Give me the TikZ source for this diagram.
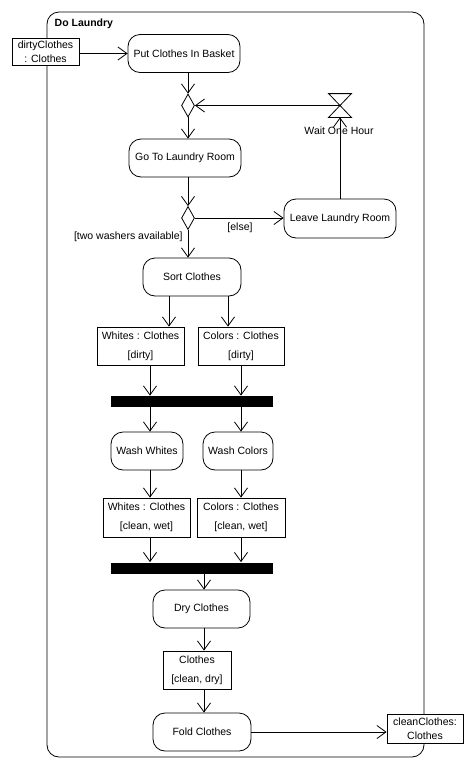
\documentclass[tikz,border=0pt]{standalone}
\usepackage{fontspec}
\setmainfont{Liberation Sans}
\usetikzlibrary{arrows.meta,positioning,shapes.geometric}

\begin{document}
\begin{tikzpicture}[
    x=1pt, y=-1pt,
    font=\fontsize{10.5}{13}\selectfont,
    line width=0.8pt,
    action/.style={draw, rounded corners=12pt, align=center, minimum height=38pt, inner sep=2pt},
    objbox/.style={draw, fill=white, align=center, minimum height=38pt, inner sep=2pt, font=\fontsize{10.5}{19}\selectfont},
    pinbox/.style={draw, fill=white, align=center, inner sep=2pt, font=\fontsize{10.5}{14}\selectfont},
    syncbar/.style={fill=black, minimum width=162pt, minimum height=11pt, inner sep=0pt},
    choice/.style={draw, diamond, minimum width=13pt, minimum height=23pt, inner sep=0pt},
    guard/.style={inner sep=1pt},
    line/.style={-{Straight Barb[length=9pt, width=13pt]}}
]
\useasboundingbox (0,0) rectangle (474,766);

% activity frame
\draw[rounded corners=12pt] (47,12) rectangle (424,757);
\node[font=\fontsize{10.5}{13}\selectfont\bfseries, anchor=west] (title) at (51,24) {Do Laundry};

% lanes for the vertical flows
\coordinate (laneM) at (188,0);
\coordinate (laneSW) at (169,0);
\coordinate (laneSC) at (228,0);
\coordinate (laneW) at (150,0);
\coordinate (laneC) at (241,0);
\coordinate (laneD) at (204,0);

\node[action, minimum width=112pt] (put) at (184,53.5) {Put Clothes In Basket};
\node[pinbox, minimum width=67pt, minimum height=27pt] (dirty) at (45.5,52) {dirtyClothes\\: Clothes};
\node[choice] (merge) at (188,105.5) {};
\node[minimum width=22pt, minimum height=23pt, inner sep=0pt] (wait) at (340,105.5) {};
\node[guard] (waitlbl) at (339,131) {Wait One Hour};
\node[action, minimum width=112pt] (go) at (185,158) {Go To Laundry Room};
\node[choice] (decide) at (188,218) {};
\node[action, minimum width=112pt, minimum height=39pt] (leave) at (340,218.5) {Leave Laundry Room};
\node[guard] (elselbl) at (240,228) {[else]};
\node[guard, anchor=east] (twolbl) at (184,237) {[two washers available]};
\node[action, minimum width=98pt] (sort) at (192,277) {Sort Clothes};

\node[objbox, minimum width=87pt] (whitesdirty) at (140.5,346) {Whites : Clothes\\{[dirty]}};
\node[objbox, minimum width=86pt] (colorsdirty) at (241,346) {Colors : Clothes\\{[dirty]}};
\node[syncbar] (fork) at (192,401.5) {};
\node[action, minimum width=72pt] (washw) at (147,451) {Wash Whites};
\node[action, minimum width=70pt] (washc) at (238,451) {Wash Colors};
\node[objbox, minimum width=87pt, minimum height=39pt] (whiteswet) at (146.5,517.5) {Whites : Clothes\\{[clean, wet]}};
\node[objbox, minimum width=88pt, minimum height=39pt] (colorswet) at (241,517.5) {Colors : Clothes\\{[clean, wet]}};
\node[syncbar] (join) at (192,568) {};
\node[action, minimum width=97pt] (dry) at (201.5,609) {Dry Clothes};
\node[objbox, minimum width=68pt] (drycl) at (197,670) {Clothes\\{[clean, dry]}};
\node[action, minimum width=98pt] (fold) at (202,732) {Fold Clothes};
\node[pinbox, minimum width=76pt, minimum height=29pt] (clean) at (425,729) {cleanClothes:\\Clothes};

% wait time event
\draw (wait.north west) -- (wait.north east) -- (wait.south west) -- (wait.south east) -- cycle;

\draw[line] (dirty.east |- put) -- (put);
\draw[line] (put.south -| laneM) -- (merge);
\draw[line] (wait.center) -- (merge);
\draw[line] (merge) -- (go.north -| laneM);
\draw[line] (go.south -| laneM) -- (decide);
\draw[line] (decide.east) -- (decide.east -| leave.west);
\draw[line] (leave) -- (wait.south);
\draw[line] (decide) -- (sort.north -| laneM);
\draw[line] (sort.south -| laneSW) -- (whitesdirty.north -| laneSW);
\draw[line] (sort.south -| laneSC) -- (colorsdirty.north -| laneSC);
\draw[line] (whitesdirty.south -| laneW) -- (fork.north -| laneW);
\draw[line] (colorsdirty.south -| laneC) -- (fork.north -| laneC);
\draw[line] (fork.south -| laneW) -- (washw.north -| laneW);
\draw[line] (fork.south -| laneC) -- (washc.north -| laneC);
\draw[line] (washw.south -| laneW) -- (whiteswet.north -| laneW);
\draw[line] (washc.south -| laneC) -- (colorswet.north -| laneC);
\draw[line] (whiteswet.south -| laneW) -- (join.north -| laneW);
\draw[line] (colorswet.south -| laneC) -- (join.north -| laneC);
\draw[line] (join.south -| laneD) -- (dry.north -| laneD);
\draw[line] (dry.south -| laneD) -- (drycl.north -| laneD);
\draw[line] (drycl.south -| laneD) -- (fold.north -| laneD);
\draw[line] (fold) -- (fold -| clean.west);
\end{tikzpicture}
\end{document}
